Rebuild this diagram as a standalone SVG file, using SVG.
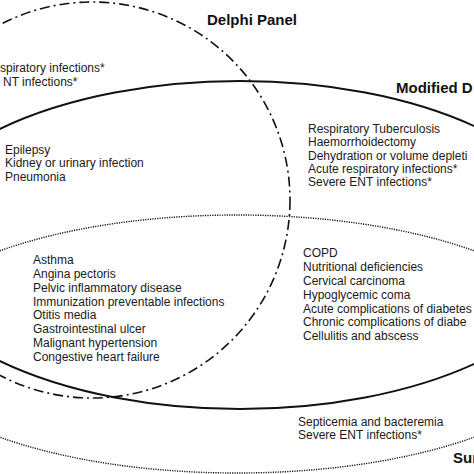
<svg xmlns="http://www.w3.org/2000/svg" width="474" height="474" viewBox="0 0 474 474">
<style>
.t{font-family:"Liberation Sans",Arial,sans-serif;font-size:12px;fill:#1a1a1a}
.h{font-family:"Liberation Sans",Arial,sans-serif;font-size:15px;font-weight:bold;fill:#111}
.c{fill:none;stroke:#111}
</style>
<rect width="474" height="474" fill="#fff"/>
<g id="connectors">
<circle id="delphi-circle" class="c" cx="92" cy="200" r="198" stroke-width="1.6" stroke-dasharray="10 4 2 4"/>
<ellipse id="modified-ellipse" class="c" cx="240" cy="245" rx="340" ry="164" stroke-width="2"/>
<ellipse id="survey-ellipse" class="c" cx="237" cy="344" rx="343" ry="129" stroke-width="1.4" stroke-dasharray="1.2 1.2"/>
</g>
<g id="delphi-label"><text class="h" x="207" y="25">Delphi Panel</text></g>
<g id="modified-label"><text class="h" x="396" y="93">Modified D</text></g>
<g id="survey-label"><text class="h" x="453" y="463">Sur</text></g>
<g id="delphi-only">
<text class="t" x="0" y="72">spiratory infections*</text>
<text class="t" x="3" y="86">NT infections*</text>
</g>
<g id="delphi-modified">
<text class="t" x="5" y="154">Epilepsy</text>
<text class="t" x="5" y="167">Kidney or urinary infection</text>
<text class="t" x="5" y="181">Pneumonia</text>
</g>
<g id="modified-only">
<text class="t" x="308" y="133">Respiratory Tuberculosis</text>
<text class="t" x="308" y="146">Haemorrhoidectomy</text>
<text class="t" x="308" y="160">Dehydration or volume depleti</text>
<text class="t" x="308" y="173">Acute respiratory infections*</text>
<text class="t" x="308" y="186">Severe ENT infections*</text>
</g>
<g id="all-three">
<text class="t" x="33" y="264">Asthma</text>
<text class="t" x="33" y="278">Angina pectoris</text>
<text class="t" x="33" y="292">Pelvic inflammatory disease</text>
<text class="t" x="33" y="306">Immunization preventable infections</text>
<text class="t" x="33" y="319">Otitis media</text>
<text class="t" x="33" y="333">Gastrointestinal ulcer</text>
<text class="t" x="33" y="347">Malignant hypertension</text>
<text class="t" x="33" y="361">Congestive heart failure</text>
</g>
<g id="modified-survey">
<text class="t" x="303" y="257">COPD</text>
<text class="t" x="303" y="271">Nutritional deficiencies</text>
<text class="t" x="303" y="285">Cervical carcinoma</text>
<text class="t" x="303" y="299">Hypoglycemic coma</text>
<text class="t" x="303" y="313">Acute complications of diabetes</text>
<text class="t" x="303" y="326">Chronic complications of diabe</text>
<text class="t" x="303" y="340">Cellulitis and abscess</text>
</g>
<g id="survey-only">
<text class="t" x="298" y="426">Septicemia and bacteremia</text>
<text class="t" x="298" y="439">Severe ENT infections*</text>
</g>
</svg>
